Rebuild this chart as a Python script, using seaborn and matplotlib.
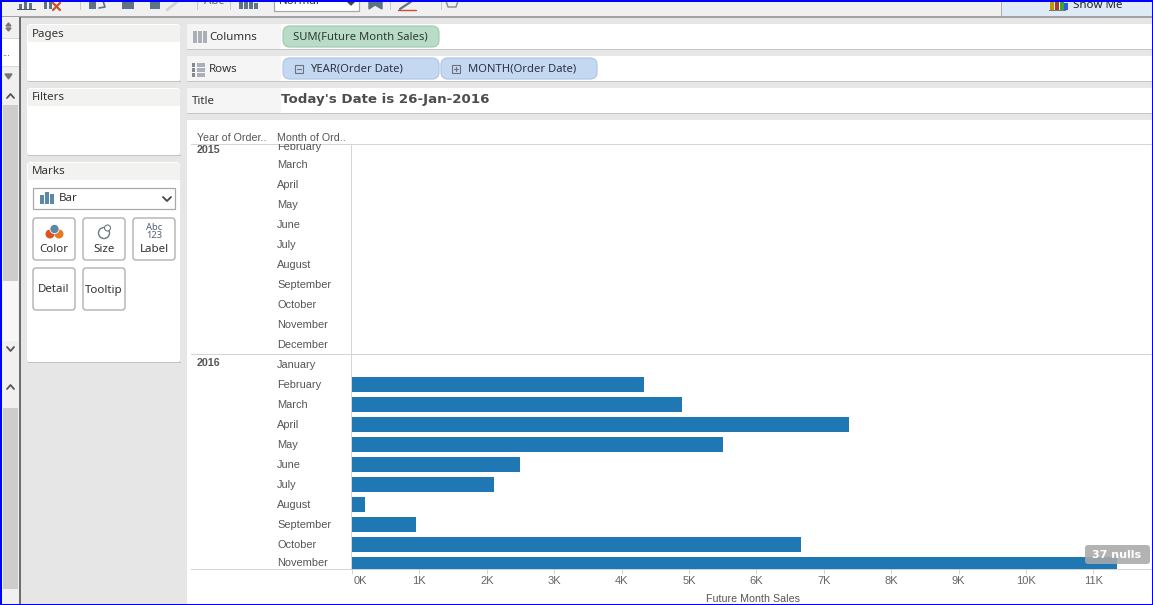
import numpy as np
import pandas as pd
import seaborn as sns
import matplotlib
matplotlib.use("Agg")
import matplotlib.pyplot as plt
from matplotlib.patches import Rectangle, FancyBboxPatch, Circle, Polygon
from matplotlib.transforms import Bbox, ScaledTranslation

W, H = 1153, 605

# chart values
months_2015 = ['February', 'March', 'April', 'May', 'June', 'July', 'August',
               'September', 'October', 'November', 'December']
months_2016 = ['January', 'February', 'March', 'April', 'May', 'June', 'July',
               'August', 'September', 'October', 'November']
sales_2015 = [np.nan] * 11
sales_2016 = [np.nan, 4330, 4900, 7370, 5500, 2490, 2110, 190, 950, 6660, 11350]
x_ticks = [0, 1000, 2000, 3000, 4000, 5000, 6000, 7000, 8000, 9000, 10000, 11000]
x_labels = ['0K', '1K', '2K', '3K', '4K', '5K', '6K', '7K', '8K', '9K', '10K', '11K']

df = pd.DataFrame({
    'row': [f'2015 {m}' for m in months_2015] + [f'2016 {m}' for m in months_2016],
    'month': months_2015 + months_2016,
    'sales': sales_2015 + sales_2016,
})

UI = 'Noto Sans'
CHART = 'Liberation Sans'
BAR = '#1f77b4'
TXT = '#555555'
LINE = '#d4d4d4'

sns.set_theme(style='white')
plt.rcParams['font.family'] = [CHART, 'DejaVu Sans']

fig = plt.figure(figsize=(W / 100, H / 100), dpi=100, facecolor='#e6e6e6')

# window chrome is drawn in pixel coordinates on a full figure axes
bg = fig.add_axes([0, 0, 1, 1], zorder=0)
bg.set_xlim(0, W)
bg.set_ylim(H, 0)
bg.axis('off')


def rect(x0, y0, x1, y1, color, ax=bg, **kw):
    ax.add_patch(Rectangle((x0, y0), x1 - x0, y1 - y0, facecolor=color, edgecolor='none', **kw))


def rbox(x0, y0, x1, y1, face, edge='none', r=4, ax=bg, **kw):
    ax.add_patch(FancyBboxPatch((x0 + r, y0 + r), x1 - x0 - 2 * r, y1 - y0 - 2 * r,
                                boxstyle=f'round,pad={r},rounding_size={r}',
                                facecolor=face, edgecolor=edge, linewidth=0.9, **kw))


def label(x, y, s, size=8.3, color='#333333', family=UI, ax=bg, **kw):
    kw.setdefault('va', 'center')
    ax.text(x, y, s, fontsize=size, color=color, family=family, **kw)


# toolbar
rect(0, 0, W, 16, '#f0f0f0')
rect(0, 16, W, 17.5, '#a3a3a3')
rect(1002, 0, 1153, 16, '#deeaf5')
rect(1001, 0, 1002, 16, '#b0b0b0')
for sx in [80, 197, 230, 390, 441]:
    rect(sx, 0, sx + 1, 10, '#c8c8c8')
for x0, x1, y0 in [(19, 22, 4), (24, 27, 1), (29, 32, 3), (44, 47, 2), (49, 52, 0),
                   (89, 96, 2), (122, 134, 0), (122, 134, 4), (150, 160, 1),
                   (239, 243, 2), (244, 248, 2), (249, 253, 2), (254, 258, 3)]:
    rect(x0, y0, x1, 9, '#5d7488')
rect(17, 9, 36, 10, '#555555')
bg.plot([53, 60], [3, 10], color='#c8502a', lw=1.6)
bg.plot([53, 60], [10, 3], color='#c8502a', lw=1.6)
bg.plot([99, 105, 103], [8, 7, 1], color='#5d7488', lw=1.2)
bg.plot([167, 178], [10, 1], color='#d2d2d2', lw=2)
label(204, 1, 'Abc', size=8.3, color='#666666')
rect(274, 0, 359, 10.5, 'white')
bg.plot([274, 274, 359, 359], [0, 10.5, 10.5, 0], color='#a8a8a8', lw=0.9)
label(279, 1, 'Normal', size=8.3)
bg.add_patch(Polygon([[347, 1], [355, 1], [351, 5]], color='#444444'))
bg.add_patch(Polygon([[369, 0], [382, 0], [382, 9], [375, 5], [369, 9]], color='#5d7488'))
bg.plot([400, 412], [9, 1], color='#5d7488', lw=1.6)
bg.plot([398, 416], [10, 10], color='#c8502a', lw=1)
bg.plot([446, 458, 456, 448, 446], [1, 1, 7, 7, 1], color='#8a8a8a', lw=1)
for bx, bc, bh in [(1050, '#c8910c', 9), (1055, '#a8401a', 10), (1060, '#3aa63a', 10), (1064, '#3358e0', 7)]:
    rect(bx, 10 - bh, bx + 4, 10, bc)
rect(1049, 10, 1066, 11, '#777777')
label(1073, 5, 'Show Me', size=8.3, color='#222222')

# left strip with its scrollbars
rect(2, 17, 20, H, '#f0f0f0')
rect(19, 17, 21, H, '#6d6d6d')
rect(2, 39, 19, 66, 'white')
rect(2, 38, 19, 39, '#d8d8d8')
rect(2, 66, 19, 67, '#d8d8d8')
rect(3, 105, 18, 281, '#cdcdcd')
rect(3, 408, 18, 589, '#cdcdcd')
rect(3, 281, 18, 341, '#f7f7f7')
bg.add_patch(Polygon([[5, 74], [12, 74], [8.5, 79]], color='#777777'))
bg.add_patch(Polygon([[6, 26], [11, 26], [8.5, 23]], color='#777777'))
bg.add_patch(Polygon([[6, 28], [11, 28], [8.5, 31]], color='#777777'))
label(2, 53, '...', size=7, color='#333333')
for cy, d in [(96, 1), (349, -1), (387, 1)]:
    bg.plot([7, 10.5, 14], [cy + 2 * d, cy - 2 * d, cy + 2 * d], color='#555555', lw=1.3)

# left side cards
for top, bottom, name in [(24, 81, 'Pages'), (88, 155, 'Filters'), (162, 362, 'Marks')]:
    rect(28, bottom, 181, bottom + 1, '#c4c4c4')
    rbox(27, top, 180, bottom, 'white', r=3)
    rect(28, top + 1, 180, top + 18, '#f2f2f1')
    label(32, top + 10, name)

# shelves
for top, name in [(24, 'Columns'), (56, 'Rows'), (88, 'Title')]:
    rect(187, top, W, top + 25, 'white')
    rect(187, top, 281, top + 25, '#f5f5f5')
    rect(187, top + 25, W, top + 26, '#c6c6c6')
label(209, 38, 'Columns')
label(209, 70, 'Rows')
label(192, 102, 'Title')
for ix in [193, 198, 203]:
    rect(ix, 31, ix + 3.5, 43, '#a9b0b8')
for iy in [63, 68, 73]:
    rect(192, iy, 195, iy + 3.5, '#808890')
    rect(197, iy, 205, iy + 3.5, '#a9b0b8')

rbox(283, 26, 439, 47, '#b9dcc6', '#a5ccb3', r=7)
label(293, 37, 'SUM(Future Month Sales)', size=8.1, color='#2f3b33')
rbox(283, 58, 439, 79, '#c5d8f2', '#b0c7e6', r=7)
label(310, 69, 'YEAR(Order Date)', size=8.1, color='#2b3340')
rbox(441, 58, 597, 79, '#c5d8f2', '#b0c7e6', r=7)
label(468, 69, 'MONTH(Order Date)', size=8.1, color='#2b3340')
for bx, sign in [(295, '-'), (452, '+')]:
    bg.add_patch(Rectangle((bx, 65), 8, 8, facecolor='none', edgecolor='#6b7380', lw=0.8))
    bg.plot([bx + 2, bx + 6], [69, 69], color='#6b7380', lw=0.8)
    if sign == '+':
        bg.plot([bx + 4, bx + 4], [67, 71], color='#6b7380', lw=0.8)

label(281, 99, "Today's Date is 26-Jan-2016", size=9.6, color='#4d4d4d',
      family='DejaVu Sans', fontweight='bold')

# marks card contents
rect(33, 188, 175, 209, 'white')
bg.add_patch(Rectangle((33, 188), 142, 21, facecolor='none', edgecolor='#a8a8a8', lw=0.9))
for bx, by in [(40, 195), (45, 192), (50, 194)]:
    rect(bx, by, bx + 3.5, 204, '#5b87a8')
label(59, 198.5, 'Bar')
bg.plot([163, 167, 171], [197, 201, 197], color='#444444', lw=1.3)
for x0, y0, x1, y1, name in [(33, 218, 75, 260, 'Color'), (83, 218, 125, 260, 'Size'),
                             (133, 218, 175, 260, 'Label'), (33, 268, 75, 310, 'Detail'),
                             (83, 268, 125, 310, 'Tooltip')]:
    rbox(x0, y0, x1, y1, 'white', '#a8a8a8', r=3)
    ty = y0 + 32 if y0 == 218 else y0 + 22
    label((x0 + x1) / 2, ty, name, ha='center')
bg.add_patch(Circle((50, 234), 3.8, color='#d9541e'))
bg.add_patch(Circle((59, 234), 3.8, color='#e8791f'))
bg.add_patch(Circle((54.5, 229), 4.6, color='#5b87a8', ec='white', lw=0.6))
bg.add_patch(Circle((104, 233), 5.5, facecolor='none', edgecolor='#6e7880', lw=1))
bg.add_patch(Circle((107.5, 228), 3, facecolor='white', edgecolor='#6e7880', lw=0.8))
label(154, 227, 'Abc', size=6.8, color='#4f6073', ha='center')
label(154, 235, '123', size=6.8, color='#4f6073', ha='center')

# view area
rect(187, 120, W, H, 'white')
for ly in [144, 354, 569]:
    rect(191, ly, W, ly + 1, LINE)
rect(351, 144, 352, 570, LINE)
label(197, 138, 'Year of Order..', size=7.7, color=TXT, family=CHART)
label(277, 138, 'Month of Ord..', size=7.7, color=TXT, family=CHART)
label(197, 150, '2015', size=7.7, color=TXT, family=CHART, fontweight='bold')
label(197, 363, '2016', size=7.7, color=TXT, family=CHART, fontweight='bold')

# the bars go through a real axes, 20 px per row and 67.4 px per thousand
ax = fig.add_axes([352 / W, 1 - 569 / H, (W - 352) / W, (569 - 145) / H], zorder=1)
ax.patch.set_alpha(0)
sns.barplot(data=df, x='sales', y='row', order=df['row'].tolist(), orient='h',
            color=BAR, saturation=1, width=0.75, linewidth=0, edgecolor='none', ax=ax)
ax.set_xlim(0, (W - 352) / 0.0674)
ax.set_ylim(21.225, 0.025)
ax.set_xticks(x_ticks)
ax.set_xticklabels(x_labels, fontsize=8, color='#666666', family=CHART)
ax.tick_params(axis='x', bottom=True, length=3.6, width=0.7, color=LINE, pad=1.5)
first = ax.get_xticklabels()[0]
first.set_ha('left')
first.set_transform(first.get_transform() + ScaledTranslation(2 / 100, 0, fig.dpi_scale_trans))
ax.set_yticks([])
ax.set_ylabel('')
ax.set_xlabel('Future Month Sales', fontsize=7.7, color=TXT, family=CHART)
ax.xaxis.set_label_coords((753 - 352) / (W - 352), -29.5 / (569 - 145), transform=ax.transAxes)
ax.xaxis.label.set_va('center')
sns.despine(ax=ax, left=True, bottom=True)

# month labels follow the row scale, clipped at the header line like the first row
row_clip = Bbox([[187, H - 569], [351, H - 144]])
row_trans = ax.get_yaxis_transform()
for i, m in enumerate(df['month']):
    nudge = 0.15 if i == 0 else (-0.05 if i == len(df) - 1 else 0)
    t = ax.text((277 - 352) / (W - 352), i + nudge, m, transform=row_trans, fontsize=7.9,
                color=TXT, family=CHART, va='center', ha='left', clip_on=True)
    t.set_clip_box(row_clip)

# null badge on top of the bars
top = fig.add_axes([0, 0, 1, 1], zorder=2)
top.set_xlim(0, W)
top.set_ylim(H, 0)
top.axis('off')
rbox(1085, 545, 1150, 564, '#a9a9a9', r=3, ax=top, alpha=0.88)
label(1117, 554.5, '37 nulls', size=8, color='white', family='DejaVu Sans',
      fontweight='bold', ha='center', ax=top)

# blue window border
rect(0, 0, W, 1.5, '#0000ff', ax=top)
rect(0, H - 1.5, W, H, '#0000ff', ax=top)
rect(0, 0, 1.5, H, '#0000ff', ax=top)
rect(W - 1.5, 0, W, H, '#0000ff', ax=top)

fig.savefig('out.png', dpi=100, facecolor=fig.get_facecolor())
